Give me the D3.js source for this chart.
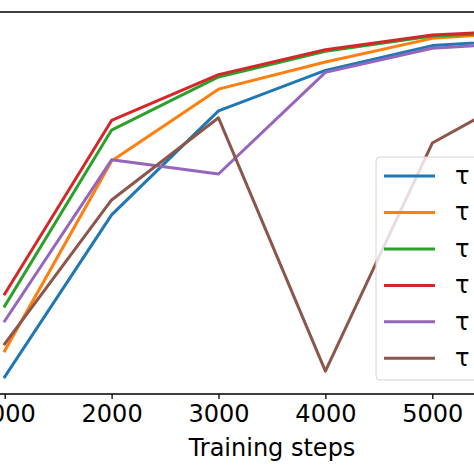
<!DOCTYPE html>
<html>
<head>
<meta charset="utf-8">
<script src="https://cdn.jsdelivr.net/npm/d3@7"></script>
<style>
  html, body { margin: 0; padding: 0; background: #fff; }
  svg { display: block; font-family: "DejaVu Sans", sans-serif; }
</style>
</head>
<body>
<div id="chart"></div>
<script>
// ---- data ----
const steps = [1000, 2000, 3000, 4000, 5000, 6000];
const xTicks = [1000, 2000, 3000, 4000, 5000];
const seriesNames = ["τ", "τ", "τ", "τ", "τ", "τ"];
const seriesColors = ["#1f77b4", "#ff7f0e", "#2ca02c", "#d62728", "#9467bd", "#8c564b"];
const blueVals   = [4.5, 46.9, 74.1, 84.7, 91.2, 92.9];
const orangeVals = [11.3, 61.0, 79.8, 86.9, 93.1, 95.0];
const greenVals  = [23.0, 69.1, 83.0, 89.7, 93.7, 95.0];
const redVals    = [26.2, 71.6, 83.6, 90.1, 94.0, 95.3];
const purpleVals = [19.1, 61.3, 57.6, 84.2, 90.5, 92.2];
const brownVals  = [13.1, 50.8, 72.3, 6.0, 65.7, 81.2];
const allSeries = [blueVals, orangeVals, greenVals, redVals, purpleVals, brownVals];

// ---- layout ----
const W = 474, H = 474;
const plotTop = 12, plotBottom = 394;
const x = d3.scaleLinear().domain([1000, 5000]).range([4.7, 432.3]);
const y = d3.scaleLinear().domain([0, 100]).range([plotBottom, plotTop]);

const svg = d3.select("#chart").append("svg")
  .attr("width", W).attr("height", H);
svg.append("rect").attr("width", W).attr("height", H).attr("fill", "#fff");

svg.append("defs").append("clipPath").attr("id", "plotclip")
  .append("rect").attr("x", -50).attr("y", plotTop).attr("width", W + 100).attr("height", plotBottom - plotTop);

// lines
const line = d3.line().x((d, i) => x(steps[i])).y(d => y(d));
const g = svg.append("g").attr("clip-path", "url(#plotclip)");
allSeries.forEach((vals, k) => {
  g.append("path")
    .attr("d", line(vals))
    .attr("fill", "none")
    .attr("stroke", seriesColors[k])
    .attr("stroke-width", 3)
    .attr("stroke-linejoin", "round")
    .attr("stroke-linecap", "square");
});

// top spine
svg.append("line").attr("x1", -10).attr("x2", W + 10)
  .attr("y1", plotTop).attr("y2", plotTop)
  .attr("stroke", "#000").attr("stroke-width", 1.3);

// x axis
const xAxis = d3.axisBottom(x).tickValues(xTicks).tickSize(5).tickPadding(6)
  .tickFormat(d3.format("d"));
const ax = svg.append("g").attr("transform", `translate(0,${plotBottom})`).call(xAxis);
ax.select(".domain").attr("d", `M-10,0H${W + 10}`).attr("stroke", "#000").attr("stroke-width", 1.3);
ax.selectAll(".tick line").attr("stroke", "#000").attr("stroke-width", 1.3);
ax.selectAll(".tick text").attr("font-size", 24).attr("fill", "#000")
  .attr("font-family", "DejaVu Sans");

svg.append("text").attr("x", 272).attr("y", 456)
  .attr("text-anchor", "middle").attr("font-size", 24).attr("fill", "#000")
  .text("Training steps");

// legend
const lg = svg.append("g");
lg.append("rect").attr("x", 376).attr("y", 157).attr("width", 140).attr("height", 223)
  .attr("rx", 4).attr("fill", "#fff").attr("fill-opacity", 0.8)
  .attr("stroke", "#d4d4d4").attr("stroke-width", 1);
const legY = d3.scaleLinear().domain([0, 5]).range([176, 358.3]);
seriesNames.forEach((name, k) => {
  lg.append("line").attr("x1", 384).attr("x2", 435)
    .attr("y1", legY(k)).attr("y2", legY(k))
    .attr("stroke", seriesColors[k]).attr("stroke-width", 3);
  lg.append("text").attr("x", 455).attr("y", legY(k) + 8)
    .attr("font-size", 24).attr("fill", "#000").text(name);
});
</script>
</body>
</html>
